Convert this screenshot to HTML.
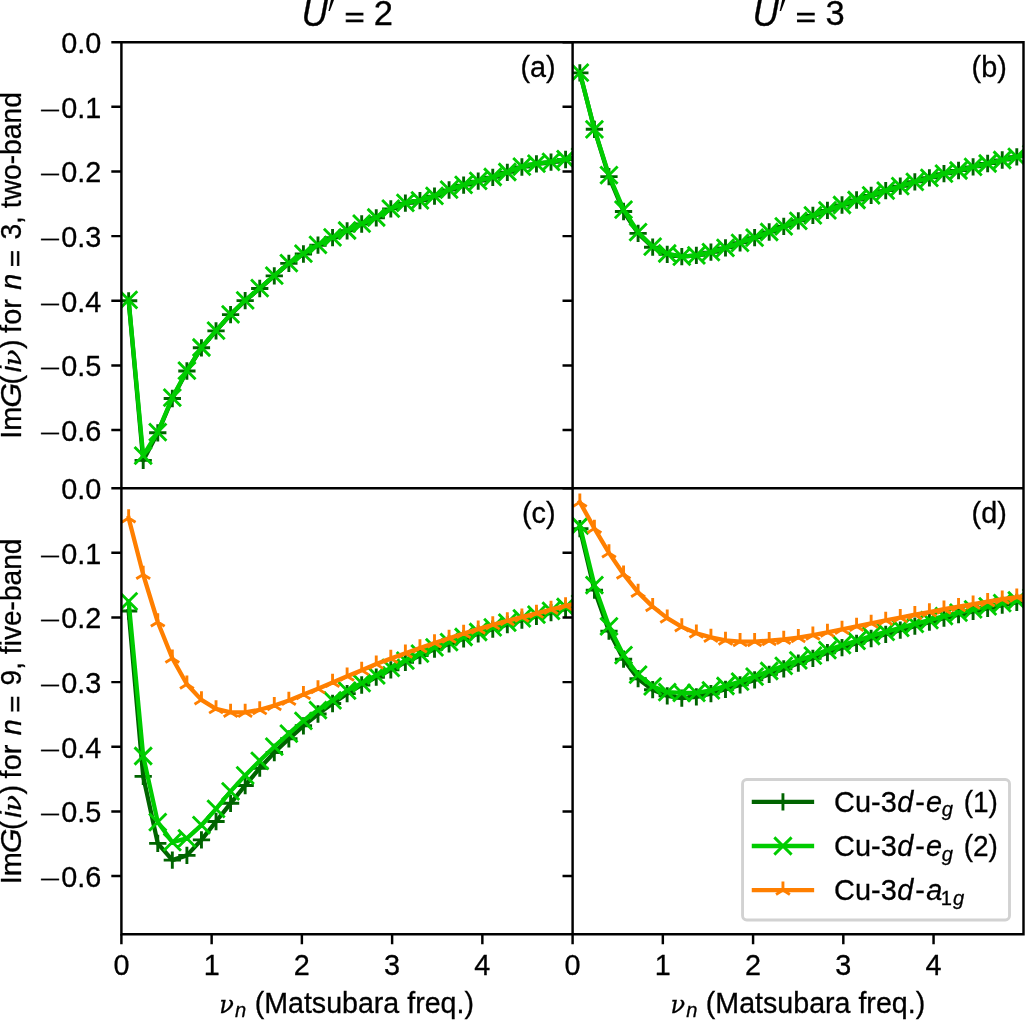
<!DOCTYPE html>
<html><head><meta charset="utf-8"><title>ImG</title>
<style>html,body{margin:0;padding:0;background:#fff}svg{display:block}text{fill:#000;stroke:#000;stroke-width:0.3px}</style></head>
<body><svg width="1025" height="1020" viewBox="0 0 1025 1020">
<rect width="1025" height="1020" fill="#fff"/>
<defs><clipPath id="ca"><rect x="121.4" y="42.2" width="451.20000000000005" height="446.0"/></clipPath><clipPath id="cb"><rect x="572.6" y="42.2" width="450.9" height="446.0"/></clipPath><clipPath id="cc"><rect x="121.4" y="488.2" width="451.20000000000005" height="446.00000000000006"/></clipPath><clipPath id="cd"><rect x="572.6" y="488.2" width="450.9" height="446.00000000000006"/></clipPath></defs>
<g clip-path="url(#ca)"><polyline points="128.64,300.80 143.20,460.40 157.77,432.80 172.33,398.50 186.90,371.00 201.46,347.80 216.03,330.90 230.59,314.60 245.16,300.60 259.73,288.50 274.29,275.90 288.86,263.40 303.42,254.00 317.99,245.20 332.55,237.70 347.12,230.80 361.68,224.00 376.25,217.80 390.81,208.90 405.38,203.20 419.94,200.70 434.50,196.10 449.07,190.00 463.63,185.10 478.20,181.10 492.76,177.30 507.33,172.30 521.89,167.00 536.46,163.90 551.02,162.20 565.59,159.50 580.15,157.00" fill="none" stroke="#006400" stroke-width="4.3" stroke-linejoin="round" stroke-linecap="square"/><path d="M120.00 300.80H137.28M128.64 292.16V309.44M134.56 460.40H151.84M143.20 451.76V469.04M149.13 432.80H166.41M157.77 424.16V441.44M163.69 398.50H180.97M172.33 389.86V407.14M178.26 371.00H195.54M186.90 362.36V379.64M192.82 347.80H210.10M201.46 339.16V356.44M207.39 330.90H224.67M216.03 322.26V339.54M221.95 314.60H239.23M230.59 305.96V323.24M236.52 300.60H253.80M245.16 291.96V309.24M251.09 288.50H268.37M259.73 279.86V297.14M265.65 275.90H282.93M274.29 267.26V284.54M280.22 263.40H297.50M288.86 254.76V272.04M294.78 254.00H312.06M303.42 245.36V262.64M309.35 245.20H326.62M317.99 236.56V253.84M323.91 237.70H341.19M332.55 229.06V246.34M338.48 230.80H355.75M347.12 222.16V239.44M353.04 224.00H370.32M361.68 215.36V232.64M367.61 217.80H384.88M376.25 209.16V226.44M382.17 208.90H399.45M390.81 200.26V217.54M396.74 203.20H414.01M405.38 194.56V211.84M411.30 200.70H428.58M419.94 192.06V209.34M425.87 196.10H443.14M434.50 187.46V204.74M440.43 190.00H457.71M449.07 181.36V198.64M455.00 185.10H472.27M463.63 176.46V193.74M469.56 181.10H486.84M478.20 172.46V189.74M484.12 177.30H501.40M492.76 168.66V185.94M498.69 172.30H515.97M507.33 163.66V180.94M513.25 167.00H530.53M521.89 158.36V175.64M527.82 163.90H545.10M536.46 155.26V172.54M542.38 162.20H559.66M551.02 153.56V170.84M556.95 159.50H574.23M565.59 150.86V168.14M571.51 157.00H588.79M580.15 148.36V165.64" fill="none" stroke="#006400" stroke-width="2.88"/></g>
<g clip-path="url(#ca)"><polyline points="128.64,299.90 143.20,455.60 157.77,432.10 172.33,397.60 186.90,370.70 201.46,347.50 216.03,330.60 230.59,314.30 245.16,300.30 259.73,288.20 274.29,275.60 288.86,263.10 303.42,253.70 317.99,244.90 332.55,237.40 347.12,230.50 361.68,223.70 376.25,217.50 390.81,208.60 405.38,202.90 419.94,200.40 434.50,195.80 449.07,189.70 463.63,184.80 478.20,180.80 492.76,177.00 507.33,172.00 521.89,166.70 536.46,163.60 551.02,161.90 565.59,159.20 580.15,156.70" fill="none" stroke="#00cc00" stroke-width="4.3" stroke-linejoin="round" stroke-linecap="square"/><path d="M120.00 291.26L137.28 308.54M120.00 308.54L137.28 291.26M134.56 446.96L151.84 464.24M134.56 464.24L151.84 446.96M149.13 423.46L166.41 440.74M149.13 440.74L166.41 423.46M163.69 388.96L180.97 406.24M163.69 406.24L180.97 388.96M178.26 362.06L195.54 379.34M178.26 379.34L195.54 362.06M192.82 338.86L210.10 356.14M192.82 356.14L210.10 338.86M207.39 321.96L224.67 339.24M207.39 339.24L224.67 321.96M221.95 305.66L239.23 322.94M221.95 322.94L239.23 305.66M236.52 291.66L253.80 308.94M236.52 308.94L253.80 291.66M251.09 279.56L268.37 296.84M251.09 296.84L268.37 279.56M265.65 266.96L282.93 284.24M265.65 284.24L282.93 266.96M280.22 254.46L297.50 271.74M280.22 271.74L297.50 254.46M294.78 245.06L312.06 262.34M294.78 262.34L312.06 245.06M309.35 236.26L326.62 253.54M309.35 253.54L326.62 236.26M323.91 228.76L341.19 246.04M323.91 246.04L341.19 228.76M338.48 221.86L355.75 239.14M338.48 239.14L355.75 221.86M353.04 215.06L370.32 232.34M353.04 232.34L370.32 215.06M367.61 208.86L384.88 226.14M367.61 226.14L384.88 208.86M382.17 199.96L399.45 217.24M382.17 217.24L399.45 199.96M396.74 194.26L414.01 211.54M396.74 211.54L414.01 194.26M411.30 191.76L428.58 209.04M411.30 209.04L428.58 191.76M425.87 187.16L443.14 204.44M425.87 204.44L443.14 187.16M440.43 181.06L457.71 198.34M440.43 198.34L457.71 181.06M455.00 176.16L472.27 193.44M455.00 193.44L472.27 176.16M469.56 172.16L486.84 189.44M469.56 189.44L486.84 172.16M484.12 168.36L501.40 185.64M484.12 185.64L501.40 168.36M498.69 163.36L515.97 180.64M498.69 180.64L515.97 163.36M513.25 158.06L530.53 175.34M513.25 175.34L530.53 158.06M527.82 154.96L545.10 172.24M527.82 172.24L545.10 154.96M542.38 153.26L559.66 170.54M542.38 170.54L559.66 153.26M556.95 150.56L574.23 167.84M556.95 167.84L574.23 150.56M571.51 148.06L588.79 165.34M571.51 165.34L588.79 148.06" fill="none" stroke="#00cc00" stroke-width="2.88"/></g>
<g clip-path="url(#cb)"><polyline points="579.84,72.90 594.41,129.30 608.97,176.60 623.54,211.50 638.10,233.40 652.67,247.20 667.23,254.40 681.80,256.60 696.36,255.40 710.93,252.20 725.49,247.90 740.06,242.80 754.62,237.60 769.19,232.00 783.75,226.40 798.32,220.80 812.88,215.40 827.45,210.40 842.01,205.00 856.58,200.00 871.14,195.40 885.71,190.60 900.27,186.20 914.84,181.80 929.40,177.80 943.97,173.70 958.53,170.50 973.10,166.90 987.66,163.50 1002.23,160.00 1016.79,156.80 1031.36,153.80" fill="none" stroke="#006400" stroke-width="4.3" stroke-linejoin="round" stroke-linecap="square"/><path d="M571.20 72.90H588.48M579.84 64.26V81.54M585.77 129.30H603.05M594.41 120.66V137.94M600.33 176.60H617.61M608.97 167.96V185.24M614.90 211.50H632.18M623.54 202.86V220.14M629.46 233.40H646.74M638.10 224.76V242.04M644.03 247.20H661.31M652.67 238.56V255.84M658.59 254.40H675.87M667.23 245.76V263.04M673.16 256.60H690.44M681.80 247.96V265.24M687.72 255.40H705.00M696.36 246.76V264.04M702.29 252.20H719.57M710.93 243.56V260.84M716.85 247.90H734.13M725.49 239.26V256.54M731.42 242.80H748.70M740.06 234.16V251.44M745.98 237.60H763.26M754.62 228.96V246.24M760.55 232.00H777.83M769.19 223.36V240.64M775.11 226.40H792.39M783.75 217.76V235.04M789.68 220.80H806.96M798.32 212.16V229.44M804.24 215.40H821.52M812.88 206.76V224.04M818.81 210.40H836.09M827.45 201.76V219.04M833.37 205.00H850.65M842.01 196.36V213.64M847.94 200.00H865.22M856.58 191.36V208.64M862.50 195.40H879.78M871.14 186.76V204.04M877.07 190.60H894.35M885.71 181.96V199.24M891.63 186.20H908.91M900.27 177.56V194.84M906.20 181.80H923.48M914.84 173.16V190.44M920.76 177.80H938.04M929.40 169.16V186.44M935.33 173.70H952.61M943.97 165.06V182.34M949.89 170.50H967.17M958.53 161.86V179.14M964.46 166.90H981.74M973.10 158.26V175.54M979.02 163.50H996.30M987.66 154.86V172.14M993.59 160.00H1010.87M1002.23 151.36V168.64M1008.15 156.80H1025.43M1016.79 148.16V165.44M1022.72 153.80H1040.00M1031.36 145.16V162.44" fill="none" stroke="#006400" stroke-width="2.88"/></g>
<g clip-path="url(#cb)"><polyline points="579.84,72.60 594.41,129.30 608.97,175.10 623.54,209.60 638.10,232.20 652.67,246.60 667.23,253.50 681.80,256.60 696.36,255.40 710.93,252.20 725.49,247.90 740.06,242.80 754.62,237.60 769.19,232.00 783.75,226.40 798.32,220.80 812.88,215.40 827.45,210.40 842.01,205.00 856.58,200.00 871.14,195.40 885.71,190.60 900.27,186.20 914.84,181.80 929.40,177.80 943.97,173.70 958.53,170.50 973.10,166.90 987.66,163.50 1002.23,160.00 1016.79,156.80 1031.36,153.80" fill="none" stroke="#00cc00" stroke-width="4.3" stroke-linejoin="round" stroke-linecap="square"/><path d="M571.20 63.96L588.48 81.24M571.20 81.24L588.48 63.96M585.77 120.66L603.05 137.94M585.77 137.94L603.05 120.66M600.33 166.46L617.61 183.74M600.33 183.74L617.61 166.46M614.90 200.96L632.18 218.24M614.90 218.24L632.18 200.96M629.46 223.56L646.74 240.84M629.46 240.84L646.74 223.56M644.03 237.96L661.31 255.24M644.03 255.24L661.31 237.96M658.59 244.86L675.87 262.14M658.59 262.14L675.87 244.86M673.16 247.96L690.44 265.24M673.16 265.24L690.44 247.96M687.72 246.76L705.00 264.04M687.72 264.04L705.00 246.76M702.29 243.56L719.57 260.84M702.29 260.84L719.57 243.56M716.85 239.26L734.13 256.54M716.85 256.54L734.13 239.26M731.42 234.16L748.70 251.44M731.42 251.44L748.70 234.16M745.98 228.96L763.26 246.24M745.98 246.24L763.26 228.96M760.55 223.36L777.83 240.64M760.55 240.64L777.83 223.36M775.11 217.76L792.39 235.04M775.11 235.04L792.39 217.76M789.68 212.16L806.96 229.44M789.68 229.44L806.96 212.16M804.24 206.76L821.52 224.04M804.24 224.04L821.52 206.76M818.81 201.76L836.09 219.04M818.81 219.04L836.09 201.76M833.37 196.36L850.65 213.64M833.37 213.64L850.65 196.36M847.94 191.36L865.22 208.64M847.94 208.64L865.22 191.36M862.50 186.76L879.78 204.04M862.50 204.04L879.78 186.76M877.07 181.96L894.35 199.24M877.07 199.24L894.35 181.96M891.63 177.56L908.91 194.84M891.63 194.84L908.91 177.56M906.20 173.16L923.48 190.44M906.20 190.44L923.48 173.16M920.76 169.16L938.04 186.44M920.76 186.44L938.04 169.16M935.33 165.06L952.61 182.34M935.33 182.34L952.61 165.06M949.89 161.86L967.17 179.14M949.89 179.14L967.17 161.86M964.46 158.26L981.74 175.54M964.46 175.54L981.74 158.26M979.02 154.86L996.30 172.14M979.02 172.14L996.30 154.86M993.59 151.36L1010.87 168.64M993.59 168.64L1010.87 151.36M1008.15 148.16L1025.43 165.44M1008.15 165.44L1025.43 148.16M1022.72 145.16L1040.00 162.44M1022.72 162.44L1040.00 145.16" fill="none" stroke="#00cc00" stroke-width="2.88"/></g>
<g clip-path="url(#cc)"><polyline points="128.64,611.00 143.20,776.40 157.77,843.40 172.33,860.10 186.90,855.40 201.46,839.90 216.03,821.50 230.59,803.30 245.16,785.50 259.73,768.20 274.29,752.50 288.86,738.80 303.42,725.80 317.99,714.00 332.55,703.50 347.12,693.60 361.68,685.00 376.25,677.20 390.81,669.80 405.38,662.40 419.94,655.50 434.50,649.20 449.07,643.90 463.63,638.80 478.20,633.80 492.76,629.10 507.33,624.50 521.89,620.10 536.46,616.40 551.02,612.60 565.59,608.80 580.15,605.50" fill="none" stroke="#006400" stroke-width="4.3" stroke-linejoin="round" stroke-linecap="square"/><path d="M120.00 611.00H137.28M128.64 602.36V619.64M134.56 776.40H151.84M143.20 767.76V785.04M149.13 843.40H166.41M157.77 834.76V852.04M163.69 860.10H180.97M172.33 851.46V868.74M178.26 855.40H195.54M186.90 846.76V864.04M192.82 839.90H210.10M201.46 831.26V848.54M207.39 821.50H224.67M216.03 812.86V830.14M221.95 803.30H239.23M230.59 794.66V811.94M236.52 785.50H253.80M245.16 776.86V794.14M251.09 768.20H268.37M259.73 759.56V776.84M265.65 752.50H282.93M274.29 743.86V761.14M280.22 738.80H297.50M288.86 730.16V747.44M294.78 725.80H312.06M303.42 717.16V734.44M309.35 714.00H326.62M317.99 705.36V722.64M323.91 703.50H341.19M332.55 694.86V712.14M338.48 693.60H355.75M347.12 684.96V702.24M353.04 685.00H370.32M361.68 676.36V693.64M367.61 677.20H384.88M376.25 668.56V685.84M382.17 669.80H399.45M390.81 661.16V678.44M396.74 662.40H414.01M405.38 653.76V671.04M411.30 655.50H428.58M419.94 646.86V664.14M425.87 649.20H443.14M434.50 640.56V657.84M440.43 643.90H457.71M449.07 635.26V652.54M455.00 638.80H472.27M463.63 630.16V647.44M469.56 633.80H486.84M478.20 625.16V642.44M484.12 629.10H501.40M492.76 620.46V637.74M498.69 624.50H515.97M507.33 615.86V633.14M513.25 620.10H530.53M521.89 611.46V628.74M527.82 616.40H545.10M536.46 607.76V625.04M542.38 612.60H559.66M551.02 603.96V621.24M556.95 608.80H574.23M565.59 600.16V617.44M571.51 605.50H588.79M580.15 596.86V614.14" fill="none" stroke="#006400" stroke-width="2.88"/></g>
<g clip-path="url(#cc)"><polyline points="128.64,601.30 143.20,756.00 157.77,822.10 172.33,842.20 186.90,838.40 201.46,825.20 216.03,808.90 230.59,791.40 245.16,775.40 259.73,760.80 274.29,746.70 288.86,733.60 303.42,720.80 317.99,710.10 332.55,700.40 347.12,690.70 361.68,683.10 376.25,675.30 390.81,667.80 405.38,660.60 419.94,653.70 434.50,647.40 449.07,642.10 463.63,637.00 478.20,632.00 492.76,627.30 507.33,622.70 521.89,618.30 536.46,614.60 551.02,610.80 565.59,607.00 580.15,603.70" fill="none" stroke="#00cc00" stroke-width="4.3" stroke-linejoin="round" stroke-linecap="square"/><path d="M120.00 592.66L137.28 609.94M120.00 609.94L137.28 592.66M134.56 747.36L151.84 764.64M134.56 764.64L151.84 747.36M149.13 813.46L166.41 830.74M149.13 830.74L166.41 813.46M163.69 833.56L180.97 850.84M163.69 850.84L180.97 833.56M178.26 829.76L195.54 847.04M178.26 847.04L195.54 829.76M192.82 816.56L210.10 833.84M192.82 833.84L210.10 816.56M207.39 800.26L224.67 817.54M207.39 817.54L224.67 800.26M221.95 782.76L239.23 800.04M221.95 800.04L239.23 782.76M236.52 766.76L253.80 784.04M236.52 784.04L253.80 766.76M251.09 752.16L268.37 769.44M251.09 769.44L268.37 752.16M265.65 738.06L282.93 755.34M265.65 755.34L282.93 738.06M280.22 724.96L297.50 742.24M280.22 742.24L297.50 724.96M294.78 712.16L312.06 729.44M294.78 729.44L312.06 712.16M309.35 701.46L326.62 718.74M309.35 718.74L326.62 701.46M323.91 691.76L341.19 709.04M323.91 709.04L341.19 691.76M338.48 682.06L355.75 699.34M338.48 699.34L355.75 682.06M353.04 674.46L370.32 691.74M353.04 691.74L370.32 674.46M367.61 666.66L384.88 683.94M367.61 683.94L384.88 666.66M382.17 659.16L399.45 676.44M382.17 676.44L399.45 659.16M396.74 651.96L414.01 669.24M396.74 669.24L414.01 651.96M411.30 645.06L428.58 662.34M411.30 662.34L428.58 645.06M425.87 638.76L443.14 656.04M425.87 656.04L443.14 638.76M440.43 633.46L457.71 650.74M440.43 650.74L457.71 633.46M455.00 628.36L472.27 645.64M455.00 645.64L472.27 628.36M469.56 623.36L486.84 640.64M469.56 640.64L486.84 623.36M484.12 618.66L501.40 635.94M484.12 635.94L501.40 618.66M498.69 614.06L515.97 631.34M498.69 631.34L515.97 614.06M513.25 609.66L530.53 626.94M513.25 626.94L530.53 609.66M527.82 605.96L545.10 623.24M527.82 623.24L545.10 605.96M542.38 602.16L559.66 619.44M542.38 619.44L559.66 602.16M556.95 598.36L574.23 615.64M556.95 615.64L574.23 598.36M571.51 595.06L588.79 612.34M571.51 612.34L588.79 595.06" fill="none" stroke="#00cc00" stroke-width="2.88"/></g>
<g clip-path="url(#cc)"><polyline points="128.64,518.00 143.20,574.50 157.77,622.00 172.33,658.20 186.90,684.20 201.46,699.90 216.03,708.80 230.59,712.40 245.16,712.40 259.73,709.80 274.29,705.60 288.86,700.40 303.42,694.60 317.99,688.80 332.55,682.50 347.12,676.20 361.68,670.30 376.25,664.10 390.81,658.50 405.38,653.20 419.94,648.00 434.50,643.00 449.07,638.30 463.63,633.50 478.20,629.10 492.76,624.80 507.33,620.80 521.89,617.10 536.46,613.30 551.02,609.50 565.59,605.80 580.15,602.50" fill="none" stroke="#ff7f00" stroke-width="4.3" stroke-linejoin="round" stroke-linecap="square"/><path d="M128.64 518.00V509.36M128.64 518.00l6.91 4.32M128.64 518.00l-6.91 4.32M143.20 574.50V565.86M143.20 574.50l6.91 4.32M143.20 574.50l-6.91 4.32M157.77 622.00V613.36M157.77 622.00l6.91 4.32M157.77 622.00l-6.91 4.32M172.33 658.20V649.56M172.33 658.20l6.91 4.32M172.33 658.20l-6.91 4.32M186.90 684.20V675.56M186.90 684.20l6.91 4.32M186.90 684.20l-6.91 4.32M201.46 699.90V691.26M201.46 699.90l6.91 4.32M201.46 699.90l-6.91 4.32M216.03 708.80V700.16M216.03 708.80l6.91 4.32M216.03 708.80l-6.91 4.32M230.59 712.40V703.76M230.59 712.40l6.91 4.32M230.59 712.40l-6.91 4.32M245.16 712.40V703.76M245.16 712.40l6.91 4.32M245.16 712.40l-6.91 4.32M259.73 709.80V701.16M259.73 709.80l6.91 4.32M259.73 709.80l-6.91 4.32M274.29 705.60V696.96M274.29 705.60l6.91 4.32M274.29 705.60l-6.91 4.32M288.86 700.40V691.76M288.86 700.40l6.91 4.32M288.86 700.40l-6.91 4.32M303.42 694.60V685.96M303.42 694.60l6.91 4.32M303.42 694.60l-6.91 4.32M317.99 688.80V680.16M317.99 688.80l6.91 4.32M317.99 688.80l-6.91 4.32M332.55 682.50V673.86M332.55 682.50l6.91 4.32M332.55 682.50l-6.91 4.32M347.12 676.20V667.56M347.12 676.20l6.91 4.32M347.12 676.20l-6.91 4.32M361.68 670.30V661.66M361.68 670.30l6.91 4.32M361.68 670.30l-6.91 4.32M376.25 664.10V655.46M376.25 664.10l6.91 4.32M376.25 664.10l-6.91 4.32M390.81 658.50V649.86M390.81 658.50l6.91 4.32M390.81 658.50l-6.91 4.32M405.38 653.20V644.56M405.38 653.20l6.91 4.32M405.38 653.20l-6.91 4.32M419.94 648.00V639.36M419.94 648.00l6.91 4.32M419.94 648.00l-6.91 4.32M434.50 643.00V634.36M434.50 643.00l6.91 4.32M434.50 643.00l-6.91 4.32M449.07 638.30V629.66M449.07 638.30l6.91 4.32M449.07 638.30l-6.91 4.32M463.63 633.50V624.86M463.63 633.50l6.91 4.32M463.63 633.50l-6.91 4.32M478.20 629.10V620.46M478.20 629.10l6.91 4.32M478.20 629.10l-6.91 4.32M492.76 624.80V616.16M492.76 624.80l6.91 4.32M492.76 624.80l-6.91 4.32M507.33 620.80V612.16M507.33 620.80l6.91 4.32M507.33 620.80l-6.91 4.32M521.89 617.10V608.46M521.89 617.10l6.91 4.32M521.89 617.10l-6.91 4.32M536.46 613.30V604.66M536.46 613.30l6.91 4.32M536.46 613.30l-6.91 4.32M551.02 609.50V600.86M551.02 609.50l6.91 4.32M551.02 609.50l-6.91 4.32M565.59 605.80V597.16M565.59 605.80l6.91 4.32M565.59 605.80l-6.91 4.32M580.15 602.50V593.86M580.15 602.50l6.91 4.32M580.15 602.50l-6.91 4.32" fill="none" stroke="#ff7f00" stroke-width="2.88"/></g>
<g clip-path="url(#cd)"><polyline points="579.84,528.70 594.41,590.10 608.97,631.10 623.54,659.20 638.10,678.70 652.67,689.70 667.23,695.80 681.80,698.10 696.36,696.80 710.93,693.70 725.49,689.30 740.06,684.90 754.62,679.90 769.19,674.30 783.75,668.90 798.32,663.20 812.88,658.30 827.45,652.70 842.01,647.70 856.58,643.30 871.14,638.50 885.71,634.30 900.27,630.10 914.84,626.10 929.40,622.20 943.97,618.10 958.53,614.60 973.10,611.40 987.66,608.30 1002.23,605.10 1016.79,602.30 1031.36,599.50" fill="none" stroke="#006400" stroke-width="4.3" stroke-linejoin="round" stroke-linecap="square"/><path d="M571.20 528.70H588.48M579.84 520.06V537.34M585.77 590.10H603.05M594.41 581.46V598.74M600.33 631.10H617.61M608.97 622.46V639.74M614.90 659.20H632.18M623.54 650.56V667.84M629.46 678.70H646.74M638.10 670.06V687.34M644.03 689.70H661.31M652.67 681.06V698.34M658.59 695.80H675.87M667.23 687.16V704.44M673.16 698.10H690.44M681.80 689.46V706.74M687.72 696.80H705.00M696.36 688.16V705.44M702.29 693.70H719.57M710.93 685.06V702.34M716.85 689.30H734.13M725.49 680.66V697.94M731.42 684.90H748.70M740.06 676.26V693.54M745.98 679.90H763.26M754.62 671.26V688.54M760.55 674.30H777.83M769.19 665.66V682.94M775.11 668.90H792.39M783.75 660.26V677.54M789.68 663.20H806.96M798.32 654.56V671.84M804.24 658.30H821.52M812.88 649.66V666.94M818.81 652.70H836.09M827.45 644.06V661.34M833.37 647.70H850.65M842.01 639.06V656.34M847.94 643.30H865.22M856.58 634.66V651.94M862.50 638.50H879.78M871.14 629.86V647.14M877.07 634.30H894.35M885.71 625.66V642.94M891.63 630.10H908.91M900.27 621.46V638.74M906.20 626.10H923.48M914.84 617.46V634.74M920.76 622.20H938.04M929.40 613.56V630.84M935.33 618.10H952.61M943.97 609.46V626.74M949.89 614.60H967.17M958.53 605.96V623.24M964.46 611.40H981.74M973.10 602.76V620.04M979.02 608.30H996.30M987.66 599.66V616.94M993.59 605.10H1010.87M1002.23 596.46V613.74M1008.15 602.30H1025.43M1016.79 593.66V610.94M1022.72 599.50H1040.00M1031.36 590.86V608.14" fill="none" stroke="#006400" stroke-width="2.88"/></g>
<g clip-path="url(#cd)"><polyline points="579.84,525.50 594.41,585.10 608.97,626.30 623.54,655.20 638.10,674.70 652.67,686.30 667.23,692.20 681.80,692.80 696.36,692.80 710.93,690.40 725.49,686.00 740.06,681.60 754.62,676.60 769.19,671.00 783.75,665.80 798.32,660.30 812.88,655.60 827.45,650.10 842.01,645.20 856.58,640.80 871.14,636.00 885.71,631.90 900.27,627.80 914.84,623.90 929.40,620.10 943.97,616.10 958.53,612.60 973.10,609.40 987.66,606.30 1002.23,603.10 1016.79,600.30 1031.36,597.50" fill="none" stroke="#00cc00" stroke-width="4.3" stroke-linejoin="round" stroke-linecap="square"/><path d="M571.20 516.86L588.48 534.14M571.20 534.14L588.48 516.86M585.77 576.46L603.05 593.74M585.77 593.74L603.05 576.46M600.33 617.66L617.61 634.94M600.33 634.94L617.61 617.66M614.90 646.56L632.18 663.84M614.90 663.84L632.18 646.56M629.46 666.06L646.74 683.34M629.46 683.34L646.74 666.06M644.03 677.66L661.31 694.94M644.03 694.94L661.31 677.66M658.59 683.56L675.87 700.84M658.59 700.84L675.87 683.56M673.16 684.16L690.44 701.44M673.16 701.44L690.44 684.16M687.72 684.16L705.00 701.44M687.72 701.44L705.00 684.16M702.29 681.76L719.57 699.04M702.29 699.04L719.57 681.76M716.85 677.36L734.13 694.64M716.85 694.64L734.13 677.36M731.42 672.96L748.70 690.24M731.42 690.24L748.70 672.96M745.98 667.96L763.26 685.24M745.98 685.24L763.26 667.96M760.55 662.36L777.83 679.64M760.55 679.64L777.83 662.36M775.11 657.16L792.39 674.44M775.11 674.44L792.39 657.16M789.68 651.66L806.96 668.94M789.68 668.94L806.96 651.66M804.24 646.96L821.52 664.24M804.24 664.24L821.52 646.96M818.81 641.46L836.09 658.74M818.81 658.74L836.09 641.46M833.37 636.56L850.65 653.84M833.37 653.84L850.65 636.56M847.94 632.16L865.22 649.44M847.94 649.44L865.22 632.16M862.50 627.36L879.78 644.64M862.50 644.64L879.78 627.36M877.07 623.26L894.35 640.54M877.07 640.54L894.35 623.26M891.63 619.16L908.91 636.44M891.63 636.44L908.91 619.16M906.20 615.26L923.48 632.54M906.20 632.54L923.48 615.26M920.76 611.46L938.04 628.74M920.76 628.74L938.04 611.46M935.33 607.46L952.61 624.74M935.33 624.74L952.61 607.46M949.89 603.96L967.17 621.24M949.89 621.24L967.17 603.96M964.46 600.76L981.74 618.04M964.46 618.04L981.74 600.76M979.02 597.66L996.30 614.94M979.02 614.94L996.30 597.66M993.59 594.46L1010.87 611.74M993.59 611.74L1010.87 594.46M1008.15 591.66L1025.43 608.94M1008.15 608.94L1025.43 591.66M1022.72 588.86L1040.00 606.14M1022.72 606.14L1040.00 588.86" fill="none" stroke="#00cc00" stroke-width="2.88"/></g>
<g clip-path="url(#cd)"><polyline points="579.84,502.10 594.41,528.40 608.97,552.90 623.54,574.20 638.10,592.40 652.67,606.60 667.23,618.10 681.80,626.90 696.36,633.20 710.93,637.40 725.49,640.30 740.06,641.60 754.62,641.60 769.19,640.70 783.75,639.50 798.32,637.60 812.88,635.20 827.45,632.30 842.01,629.40 856.58,626.40 871.14,623.30 885.71,620.40 900.27,617.60 914.84,614.70 929.40,612.00 943.97,609.20 958.53,606.70 973.10,604.20 987.66,601.70 1002.23,599.20 1016.79,597.10 1031.36,595.00" fill="none" stroke="#ff7f00" stroke-width="4.3" stroke-linejoin="round" stroke-linecap="square"/><path d="M579.84 502.10V493.46M579.84 502.10l6.91 4.32M579.84 502.10l-6.91 4.32M594.41 528.40V519.76M594.41 528.40l6.91 4.32M594.41 528.40l-6.91 4.32M608.97 552.90V544.26M608.97 552.90l6.91 4.32M608.97 552.90l-6.91 4.32M623.54 574.20V565.56M623.54 574.20l6.91 4.32M623.54 574.20l-6.91 4.32M638.10 592.40V583.76M638.10 592.40l6.91 4.32M638.10 592.40l-6.91 4.32M652.67 606.60V597.96M652.67 606.60l6.91 4.32M652.67 606.60l-6.91 4.32M667.23 618.10V609.46M667.23 618.10l6.91 4.32M667.23 618.10l-6.91 4.32M681.80 626.90V618.26M681.80 626.90l6.91 4.32M681.80 626.90l-6.91 4.32M696.36 633.20V624.56M696.36 633.20l6.91 4.32M696.36 633.20l-6.91 4.32M710.93 637.40V628.76M710.93 637.40l6.91 4.32M710.93 637.40l-6.91 4.32M725.49 640.30V631.66M725.49 640.30l6.91 4.32M725.49 640.30l-6.91 4.32M740.06 641.60V632.96M740.06 641.60l6.91 4.32M740.06 641.60l-6.91 4.32M754.62 641.60V632.96M754.62 641.60l6.91 4.32M754.62 641.60l-6.91 4.32M769.19 640.70V632.06M769.19 640.70l6.91 4.32M769.19 640.70l-6.91 4.32M783.75 639.50V630.86M783.75 639.50l6.91 4.32M783.75 639.50l-6.91 4.32M798.32 637.60V628.96M798.32 637.60l6.91 4.32M798.32 637.60l-6.91 4.32M812.88 635.20V626.56M812.88 635.20l6.91 4.32M812.88 635.20l-6.91 4.32M827.45 632.30V623.66M827.45 632.30l6.91 4.32M827.45 632.30l-6.91 4.32M842.01 629.40V620.76M842.01 629.40l6.91 4.32M842.01 629.40l-6.91 4.32M856.58 626.40V617.76M856.58 626.40l6.91 4.32M856.58 626.40l-6.91 4.32M871.14 623.30V614.66M871.14 623.30l6.91 4.32M871.14 623.30l-6.91 4.32M885.71 620.40V611.76M885.71 620.40l6.91 4.32M885.71 620.40l-6.91 4.32M900.27 617.60V608.96M900.27 617.60l6.91 4.32M900.27 617.60l-6.91 4.32M914.84 614.70V606.06M914.84 614.70l6.91 4.32M914.84 614.70l-6.91 4.32M929.40 612.00V603.36M929.40 612.00l6.91 4.32M929.40 612.00l-6.91 4.32M943.97 609.20V600.56M943.97 609.20l6.91 4.32M943.97 609.20l-6.91 4.32M958.53 606.70V598.06M958.53 606.70l6.91 4.32M958.53 606.70l-6.91 4.32M973.10 604.20V595.56M973.10 604.20l6.91 4.32M973.10 604.20l-6.91 4.32M987.66 601.70V593.06M987.66 601.70l6.91 4.32M987.66 601.70l-6.91 4.32M1002.23 599.20V590.56M1002.23 599.20l6.91 4.32M1002.23 599.20l-6.91 4.32M1016.79 597.10V588.46M1016.79 597.10l6.91 4.32M1016.79 597.10l-6.91 4.32M1031.36 595.00V586.36M1031.36 595.00l6.91 4.32M1031.36 595.00l-6.91 4.32" fill="none" stroke="#ff7f00" stroke-width="2.88"/></g>
<rect x="742.55" y="779.55" width="266.95000000000005" height="140.45000000000005" rx="4.2" ry="4.2" fill="#ffffff" fill-opacity="0.8" stroke="#d2d2d2" stroke-width="2.88"/>
<path d="M753.9 801.9H812" stroke="#006400" stroke-width="4.3" stroke-linecap="square" fill="none"/>
<path d="M774.31 801.90H791.59M782.95 793.26V810.54" fill="none" stroke="#006400" stroke-width="2.88"/>
<path d="M753.9 846.0H812" stroke="#00cc00" stroke-width="4.3" stroke-linecap="square" fill="none"/>
<path d="M774.31 837.36L791.59 854.64M774.31 854.64L791.59 837.36" fill="none" stroke="#00cc00" stroke-width="2.88"/>
<path d="M753.9 890.1H812" stroke="#ff7f00" stroke-width="4.3" stroke-linecap="square" fill="none"/>
<path d="M782.95 890.10V881.46M782.95 890.10l6.91 4.32M782.95 890.10l-6.91 4.32" fill="none" stroke="#ff7f00" stroke-width="2.88"/>
<path d="M121.40 934.2v10.08M211.64 934.2v10.08M301.88 934.2v10.08M392.12 934.2v10.08M482.36 934.2v10.08M572.60 934.2v10.08M662.84 934.2v10.08M753.08 934.2v10.08M843.32 934.2v10.08M933.56 934.2v10.08M121.4 42.20h-10.08M121.4 106.84h-10.08M121.4 171.48h-10.08M121.4 236.12h-10.08M121.4 300.76h-10.08M121.4 365.40h-10.08M121.4 430.04h-10.08M121.4 488.20h-10.08M121.4 552.84h-10.08M121.4 617.48h-10.08M121.4 682.12h-10.08M121.4 746.76h-10.08M121.4 811.40h-10.08M121.4 876.04h-10.08M572.6 42.20h-10.08M572.6 106.84h-10.08M572.6 171.48h-10.08M572.6 236.12h-10.08M572.6 300.76h-10.08M572.6 365.40h-10.08M572.6 430.04h-10.08M572.6 488.20h-10.08M572.6 552.84h-10.08M572.6 617.48h-10.08M572.6 682.12h-10.08M572.6 746.76h-10.08M572.6 811.40h-10.08M572.6 876.04h-10.08" stroke="#000" stroke-width="2.45" fill="none"/>
<path d="M121.4 42.2H1023.5M121.4 488.2H1023.5M121.4 934.2H1023.5M121.4 40.975V935.4250000000001M572.6 40.975V935.4250000000001M1023.5 40.975V935.4250000000001" stroke="#000" stroke-width="2.45" fill="none"/>
<text x="121.40" y="975.20" text-anchor="middle" font-family="Liberation Sans, sans-serif" font-size="28.8">0</text>
<text x="211.64" y="975.20" text-anchor="middle" font-family="Liberation Sans, sans-serif" font-size="28.8">1</text>
<text x="301.88" y="975.20" text-anchor="middle" font-family="Liberation Sans, sans-serif" font-size="28.8">2</text>
<text x="392.12" y="975.20" text-anchor="middle" font-family="Liberation Sans, sans-serif" font-size="28.8">3</text>
<text x="482.36" y="975.20" text-anchor="middle" font-family="Liberation Sans, sans-serif" font-size="28.8">4</text>
<text x="572.60" y="975.20" text-anchor="middle" font-family="Liberation Sans, sans-serif" font-size="28.8">0</text>
<text x="662.84" y="975.20" text-anchor="middle" font-family="Liberation Sans, sans-serif" font-size="28.8">1</text>
<text x="753.08" y="975.20" text-anchor="middle" font-family="Liberation Sans, sans-serif" font-size="28.8">2</text>
<text x="843.32" y="975.20" text-anchor="middle" font-family="Liberation Sans, sans-serif" font-size="28.8">3</text>
<text x="933.56" y="975.20" text-anchor="middle" font-family="Liberation Sans, sans-serif" font-size="28.8">4</text>
<text x="101.40" y="53.10" text-anchor="end" font-family="Liberation Sans, sans-serif" font-size="28.8">0.0</text>
<text x="101.40" y="117.74" text-anchor="end" font-family="Liberation Sans, sans-serif" font-size="28.8">0.1</text>
<text transform="translate(39.3 116.64) scale(1.28 0.68)" font-family="Liberation Sans, sans-serif" font-size="28.8">−</text>
<text x="101.40" y="182.38" text-anchor="end" font-family="Liberation Sans, sans-serif" font-size="28.8">0.2</text>
<text transform="translate(39.3 181.28) scale(1.28 0.68)" font-family="Liberation Sans, sans-serif" font-size="28.8">−</text>
<text x="101.40" y="247.02" text-anchor="end" font-family="Liberation Sans, sans-serif" font-size="28.8">0.3</text>
<text transform="translate(39.3 245.92) scale(1.28 0.68)" font-family="Liberation Sans, sans-serif" font-size="28.8">−</text>
<text x="101.40" y="311.66" text-anchor="end" font-family="Liberation Sans, sans-serif" font-size="28.8">0.4</text>
<text transform="translate(39.3 310.56) scale(1.28 0.68)" font-family="Liberation Sans, sans-serif" font-size="28.8">−</text>
<text x="101.40" y="376.30" text-anchor="end" font-family="Liberation Sans, sans-serif" font-size="28.8">0.5</text>
<text transform="translate(39.3 375.20) scale(1.28 0.68)" font-family="Liberation Sans, sans-serif" font-size="28.8">−</text>
<text x="101.40" y="440.94" text-anchor="end" font-family="Liberation Sans, sans-serif" font-size="28.8">0.6</text>
<text transform="translate(39.3 439.84) scale(1.28 0.68)" font-family="Liberation Sans, sans-serif" font-size="28.8">−</text>
<text x="101.40" y="499.10" text-anchor="end" font-family="Liberation Sans, sans-serif" font-size="28.8">0.0</text>
<text x="101.40" y="563.74" text-anchor="end" font-family="Liberation Sans, sans-serif" font-size="28.8">0.1</text>
<text transform="translate(39.3 562.64) scale(1.28 0.68)" font-family="Liberation Sans, sans-serif" font-size="28.8">−</text>
<text x="101.40" y="628.38" text-anchor="end" font-family="Liberation Sans, sans-serif" font-size="28.8">0.2</text>
<text transform="translate(39.3 627.28) scale(1.28 0.68)" font-family="Liberation Sans, sans-serif" font-size="28.8">−</text>
<text x="101.40" y="693.02" text-anchor="end" font-family="Liberation Sans, sans-serif" font-size="28.8">0.3</text>
<text transform="translate(39.3 691.92) scale(1.28 0.68)" font-family="Liberation Sans, sans-serif" font-size="28.8">−</text>
<text x="101.40" y="757.66" text-anchor="end" font-family="Liberation Sans, sans-serif" font-size="28.8">0.4</text>
<text transform="translate(39.3 756.56) scale(1.28 0.68)" font-family="Liberation Sans, sans-serif" font-size="28.8">−</text>
<text x="101.40" y="822.30" text-anchor="end" font-family="Liberation Sans, sans-serif" font-size="28.8">0.5</text>
<text transform="translate(39.3 821.20) scale(1.28 0.68)" font-family="Liberation Sans, sans-serif" font-size="28.8">−</text>
<text x="101.40" y="886.94" text-anchor="end" font-family="Liberation Sans, sans-serif" font-size="28.8">0.6</text>
<text transform="translate(39.3 885.84) scale(1.28 0.68)" font-family="Liberation Sans, sans-serif" font-size="28.8">−</text>
<text x="555.60" y="76.60" text-anchor="end" font-family="Liberation Sans, sans-serif" font-size="28.8">(a)</text>
<text x="1006.80" y="76.60" text-anchor="end" font-family="Liberation Sans, sans-serif" font-size="28.8">(b)</text>
<text x="555.60" y="522.60" text-anchor="end" font-family="Liberation Sans, sans-serif" font-size="28.8">(c)</text>
<text x="1006.80" y="522.60" text-anchor="end" font-family="Liberation Sans, sans-serif" font-size="28.8">(d)</text>
<text x="301.39" y="25.60" font-family="Liberation Sans, sans-serif" font-size="36.288000000000004" font-style="italic">U</text>
<text transform="translate(327.84 49.13) scale(1.12 2.3)" font-family="DejaVu Sans, sans-serif" font-size="30" style="stroke:none">′</text>
<text transform="translate(344.51 26.83) scale(1 0.8)" font-family="Liberation Sans, sans-serif" font-size="34.56" style="stroke-width:0.9px">=</text>
<text x="373.86" y="25.10" font-family="Liberation Sans, sans-serif" font-size="34.56">2</text>
<text x="752.59" y="25.60" font-family="Liberation Sans, sans-serif" font-size="36.288000000000004" font-style="italic">U</text>
<text transform="translate(779.04 49.13) scale(1.12 2.3)" font-family="DejaVu Sans, sans-serif" font-size="30" style="stroke:none">′</text>
<text transform="translate(795.71 26.83) scale(1 0.8)" font-family="Liberation Sans, sans-serif" font-size="34.56" style="stroke-width:0.9px">=</text>
<text x="825.48" y="25.10" font-family="Liberation Sans, sans-serif" font-size="34.56">3</text>
<text x="219.19" y="1013.30" font-family="DejaVu Serif, serif" font-size="24.192" font-style="italic" textLength="14.58" lengthAdjust="spacingAndGlyphs">ν</text>
<text x="234.97" y="1017.40" font-family="Liberation Sans, sans-serif" font-size="20.16" font-style="italic">n</text>
<text x="254.63" y="1013.30" font-family="Liberation Sans, sans-serif" font-size="28.8" textLength="219.35" lengthAdjust="spacingAndGlyphs">(Matsubara freq.)</text>
<text x="670.39" y="1013.30" font-family="DejaVu Serif, serif" font-size="24.192" font-style="italic" textLength="14.58" lengthAdjust="spacingAndGlyphs">ν</text>
<text x="686.17" y="1017.40" font-family="Liberation Sans, sans-serif" font-size="20.16" font-style="italic">n</text>
<text x="705.83" y="1013.30" font-family="Liberation Sans, sans-serif" font-size="28.8" textLength="219.35" lengthAdjust="spacingAndGlyphs">(Matsubara freq.)</text>
<g transform="translate(21.4 0) rotate(-90)">
<text x="-438.76" y="0.00" font-family="Liberation Sans, sans-serif" font-size="28.8" textLength="32.07" lengthAdjust="spacingAndGlyphs">Im</text>
<text x="-407.88" y="0.00" font-family="Liberation Sans, sans-serif" font-size="28.8" font-style="italic" textLength="24.96" lengthAdjust="spacingAndGlyphs">G</text>
<text x="-384.49" y="0.00" font-family="Liberation Sans, sans-serif" font-size="28.8">(</text>
<text x="-372.26" y="0.00" font-family="Liberation Sans, sans-serif" font-size="28.8" font-style="italic">i</text>
<text x="-366.26" y="0.00" font-family="DejaVu Serif, serif" font-size="24.192" font-style="italic" textLength="16.75" lengthAdjust="spacingAndGlyphs">ν</text>
<text x="-349.07" y="0.00" font-family="Liberation Sans, sans-serif" font-size="28.8">)</text>
<text x="-332.91" y="0.00" font-family="Liberation Sans, sans-serif" font-size="28.8" textLength="33.79" lengthAdjust="spacingAndGlyphs">for</text>
<text x="-289.68" y="0.00" font-family="Liberation Sans, sans-serif" font-size="28.8" font-style="italic">n</text>
<text transform="translate(-267.01 1.44) scale(1 0.8)" font-family="Liberation Sans, sans-serif" font-size="28.8" style="stroke-width:0.9px">=</text>
<text x="-239.57" y="0.00" font-family="Liberation Sans, sans-serif" font-size="28.8" textLength="147.39" lengthAdjust="spacingAndGlyphs">3, two-band</text>
</g>
<g transform="translate(21.4 445.5) rotate(-90)">
<text x="-438.76" y="0.00" font-family="Liberation Sans, sans-serif" font-size="28.8" textLength="32.07" lengthAdjust="spacingAndGlyphs">Im</text>
<text x="-407.88" y="0.00" font-family="Liberation Sans, sans-serif" font-size="28.8" font-style="italic" textLength="24.96" lengthAdjust="spacingAndGlyphs">G</text>
<text x="-384.49" y="0.00" font-family="Liberation Sans, sans-serif" font-size="28.8">(</text>
<text x="-372.26" y="0.00" font-family="Liberation Sans, sans-serif" font-size="28.8" font-style="italic">i</text>
<text x="-366.26" y="0.00" font-family="DejaVu Serif, serif" font-size="24.192" font-style="italic" textLength="16.75" lengthAdjust="spacingAndGlyphs">ν</text>
<text x="-349.07" y="0.00" font-family="Liberation Sans, sans-serif" font-size="28.8">)</text>
<text x="-332.91" y="0.00" font-family="Liberation Sans, sans-serif" font-size="28.8" textLength="33.79" lengthAdjust="spacingAndGlyphs">for</text>
<text x="-289.68" y="0.00" font-family="Liberation Sans, sans-serif" font-size="28.8" font-style="italic">n</text>
<text transform="translate(-267.01 1.44) scale(1 0.8)" font-family="Liberation Sans, sans-serif" font-size="28.8" style="stroke-width:0.9px">=</text>
<text x="-239.92" y="0.00" font-family="Liberation Sans, sans-serif" font-size="28.8" textLength="146.83" lengthAdjust="spacingAndGlyphs">9, five-band</text>
</g>
<text x="834.13" y="811.90" font-family="Liberation Sans, sans-serif" font-size="28.8" textLength="62.64" lengthAdjust="spacingAndGlyphs">Cu-3</text>
<text x="897.33" y="811.90" font-family="Liberation Sans, sans-serif" font-size="28.8" font-style="italic">d</text>
<text x="915.22" y="811.90" font-family="Liberation Sans, sans-serif" font-size="28.8">-</text>
<text x="926.03" y="811.90" font-family="Liberation Sans, sans-serif" font-size="28.8" font-style="italic">e</text>
<text x="941.76" y="816.40" font-family="Liberation Sans, sans-serif" font-size="20.16" font-style="italic">g</text>
<text x="963.66" y="811.90" font-family="Liberation Sans, sans-serif" font-size="28.8" textLength="34.28" lengthAdjust="spacingAndGlyphs">(1)</text>
<text x="834.13" y="856.00" font-family="Liberation Sans, sans-serif" font-size="28.8" textLength="62.64" lengthAdjust="spacingAndGlyphs">Cu-3</text>
<text x="897.33" y="856.00" font-family="Liberation Sans, sans-serif" font-size="28.8" font-style="italic">d</text>
<text x="915.22" y="856.00" font-family="Liberation Sans, sans-serif" font-size="28.8">-</text>
<text x="926.03" y="856.00" font-family="Liberation Sans, sans-serif" font-size="28.8" font-style="italic">e</text>
<text x="941.76" y="860.50" font-family="Liberation Sans, sans-serif" font-size="20.16" font-style="italic">g</text>
<text x="963.66" y="856.00" font-family="Liberation Sans, sans-serif" font-size="28.8" textLength="34.28" lengthAdjust="spacingAndGlyphs">(2)</text>
<text x="834.13" y="900.10" font-family="Liberation Sans, sans-serif" font-size="28.8" textLength="62.64" lengthAdjust="spacingAndGlyphs">Cu-3</text>
<text x="897.33" y="900.10" font-family="Liberation Sans, sans-serif" font-size="28.8" font-style="italic">d</text>
<text x="915.22" y="900.10" font-family="Liberation Sans, sans-serif" font-size="28.8">-</text>
<text x="926.35" y="900.10" font-family="Liberation Sans, sans-serif" font-size="28.8" font-style="italic">a</text>
<text x="940.86" y="904.60" font-family="Liberation Sans, sans-serif" font-size="20.16">1</text>
<text x="952.96" y="904.60" font-family="Liberation Sans, sans-serif" font-size="20.16" font-style="italic">g</text>
</svg></body></html>
